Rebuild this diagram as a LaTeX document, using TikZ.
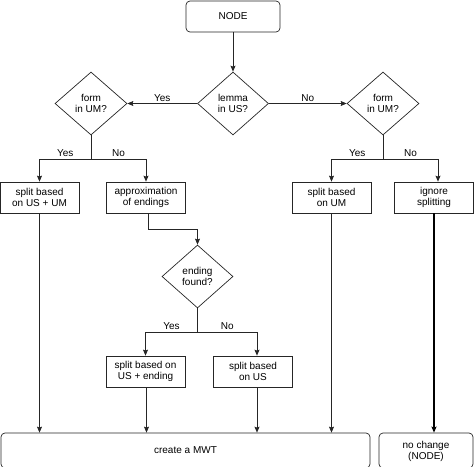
\documentclass[tikz,border=0pt]{standalone}
\usepackage{fontspec}
\setmainfont{Liberation Sans}
\usetikzlibrary{shapes.geometric,arrows.meta}
\begin{document}
\begin{tikzpicture}[x=1pt,y=-1pt,
  font=\fontsize{10}{11}\selectfont,
  line/.style={draw=black!85,line width=0.7pt},
  arr/.style={line,-{Stealth[length=6pt,width=5pt,inset=1pt]}},
  box/.style={line,align=center,inner sep=0pt,minimum width=79pt,minimum height=31pt},
  rbox/.style={box,rounded corners=4pt},
  dec/.style={line,diamond,align=center,inner sep=0pt,aspect=1.13,minimum width=71pt,minimum height=63pt},
  lab/.style={above,inner sep=2pt}]
\useasboundingbox (0,0) rectangle (474,466);
\begin{scope}
\clip (0,0) rectangle (474,466);
\node[rbox,minimum width=94pt] (node) at (233,16.5) {NODE};
\node[dec] (lemma) at (233,103.5) {lemma\\in US?};
\node[dec,minimum width=72pt] (formL) at (91,103.5) {form\\in UM?};
\node[dec,minimum width=72pt] (formR) at (383,103.5) {form\\in UM?};
\node[box] (sUSUM) at (39.5,197.5) {split based\\on US + UM};
\node[box] (approx) at (146,197.5) {approximation\\of endings};
\node[box] (sUM) at (331.5,197.5) {split based\\on UM};
\node[box] (ign) at (434,197.5) {ignore\\splitting};
\node[dec] (ending) at (197.5,276.5) {ending\\found?};
\node[box] (sUSE) at (145.5,371.5) {split based on\\US + ending};
\node[box] (sUS) at (253,371.5) {split based\\on US};
\node[rbox,minimum width=369pt,minimum height=35pt] (mwt) at (185.5,450.5) {create a MWT};
\node[rbox,minimum width=94pt,minimum height=35pt,text depth=0pt] (nochg) at (426,450.5) {no change\\(NODE)};

\draw[arr] (node) -- (lemma);
\draw[arr] (lemma) -- node[lab]{Yes} (formL);
\draw[arr] (lemma) -- node[lab]{No} (formR);
\draw[arr] (formL.south) -- ++(0,24) -| node[lab,pos=0.25]{Yes} (sUSUM.north);
\draw[arr] (formL.south) -- ++(0,24) -| node[lab,pos=0.25]{No} (approx.north);
\draw[arr] (formR.south) -- ++(0,24) -| node[lab,pos=0.25]{Yes} (sUM.north);
\draw[arr] (formR.south) -- ++(0,24) -| node[lab,pos=0.25]{No} ([xshift=4pt]ign.north);
\draw[arr] ([xshift=2pt]approx.south) -- ++(0,16) -| (ending.north);
\draw[arr] (ending.south) -- ++(0,24) -| node[lab,pos=0.25]{Yes} (sUSE.north);
\draw[arr] (ending.south) -- ++(0,24) -| node[lab,pos=0.25]{No} ([xshift=4pt]sUS.north);
\draw[arr] (sUSUM.south) -- (sUSUM.south |- mwt.north);
\draw[arr] ([xshift=1pt]sUSE.south) -- ([xshift=1pt]sUSE.south |- mwt.north);
\draw[arr] ([xshift=4pt]sUS.south) -- ([xshift=4pt]sUS.south |- mwt.north);
\draw[arr] (sUM.south) -- (sUM.south |- mwt.north);
\draw[arr,draw=black,line width=1.8pt] (ign.south) -- (ign.south |- nochg.north);
\end{scope}
\end{tikzpicture}
\end{document}
